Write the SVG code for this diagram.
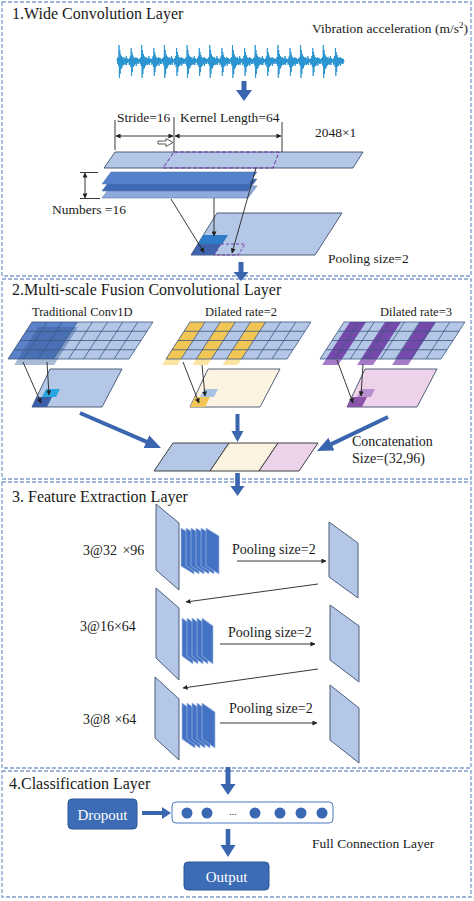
<svg xmlns="http://www.w3.org/2000/svg" xmlns:xlink="http://www.w3.org/1999/xlink" width="474" height="901" viewBox="0 0 474 901">
<style>
text{font-family:"Liberation Serif","Times New Roman",serif;fill:#1a1a1a}
.t16{font-size:16px}
.t14{font-size:14px}
.t13{font-size:13.5px}
.t12{font-size:12.5px}
.box{fill:none;stroke:#7f9ccb;stroke-width:1.3;stroke-dasharray:4 2}
.lb{fill:#b4c7e7;stroke:#3d4f6e;stroke-width:0.9}
.blk{fill:#3a66b0}
.thin{stroke:#222;stroke-width:0.9;fill:none}
.thick{stroke:#3a66b0;stroke-width:4;fill:none}
.grid{fill:none;stroke:#3b5580;stroke-width:0.8}
.panel{fill:#4472c4;stroke:#9db7e3;stroke-width:0.7}
.wave{fill:none;stroke:#1f8fce;stroke-width:0.8;stroke-linejoin:round}
.btn{fill:#3b6cb5;stroke:#2e5596;stroke-width:1}
.wt{fill:#fff;font-size:15px}
</style>
<defs>
<marker id="sm" viewBox="0 0 6 6" markerWidth="5" markerHeight="5" refX="5.5" refY="3" orient="auto-start-reverse" markerUnits="userSpaceOnUse"><path d="M0,0 L6,3 L0,6 z" fill="#222"/></marker>
<marker id="big" viewBox="0 0 16 14" markerWidth="16" markerHeight="14" refX="3" refY="7" orient="auto" markerUnits="userSpaceOnUse"><path d="M0,0 L16,7 L0,14 z" fill="#3a66b0"/></marker>
<path id="wA" class="wave" d="M0,0 L0.4,-3 0.8,3 1.2,-4 1.6,5 2,-16 2.4,17 2.8,-11 3.2,13 3.6,-7 4,8 4.4,-5 4.8,7 5.2,-4 5.6,5 6,-3 6.4,4 6.8,-4 7.2,3 7.6,-2 8,4 8.4,-3 8.8,3 9.2,-5 9.6,4 10,-3 10.4,2 10.8,-2 11.2,1 11.35,0"/>
<path id="wB" class="wave" d="M0,0 L0.4,-2 0.8,4 1.2,-3 1.6,3 2,-5 2.4,6 2.8,-13 3.2,15 3.6,-9 4,11 4.4,-6 4.8,6 5.2,-4 5.6,5 6,-3 6.4,4 6.8,-3 7.2,3 7.6,-4 8,5 8.4,-3 8.8,2 9.2,-3 9.6,3 10,-2 10.4,3 10.8,-2 11.2,1 11.35,0"/>
<polygon id="gfill" points="32,322 153,322 129,359 8,359" fill="#b4c7e7"/>
<g id="glines" class="grid">
<polygon points="32,322 153,322 129,359 8,359"/>
<path d="M26,331.25 H147 M20,340.5 H141 M14,349.75 H135 M47.1,322 L23.1,359 M62.3,322 L38.3,359 M77.4,322 L53.4,359 M92.5,322 L68.5,359 M107.6,322 L83.6,359 M122.8,322 L98.8,359 M137.9,322 L113.9,359"/>
</g>
<polygon id="omap" points="50,369 122,369 102,407 32,407" stroke="#3d4f6e" stroke-width="0.9"/>
</defs>

<g id="sections">
<rect class="box" x="2" y="2" width="469" height="274"/>
<rect class="box" x="2" y="279" width="469" height="200"/>
<rect class="box" x="2" y="482" width="469" height="286"/>
<rect class="box" x="2" y="771" width="469" height="126"/>
</g>

<!-- Section 1 -->
<g id="title1"><text class="t16" x="12" y="19">1.Wide Convolution Layer</text></g>
<g id="signal-label"><text class="t13" x="468" y="33" text-anchor="end">Vibration acceleration (m/s<tspan font-size="9" dy="-5">2</tspan><tspan dy="5">)</tspan></text></g>
<g id="signal">
<use href="#wA" x="117" y="61"/><use href="#wB" x="128.35" y="61"/><use href="#wA" x="139.7" y="61"/><use href="#wB" x="151.05" y="61"/>
<use href="#wA" x="162.4" y="61"/><use href="#wB" x="173.75" y="61"/><use href="#wA" x="185.1" y="61"/><use href="#wB" x="196.45" y="61"/>
<use href="#wA" x="207.8" y="61"/><use href="#wB" x="219.15" y="61"/><use href="#wA" x="230.5" y="61"/><use href="#wB" x="241.85" y="61"/>
<use href="#wA" x="253.2" y="61"/><use href="#wB" x="264.55" y="61"/><use href="#wA" x="275.9" y="61"/><use href="#wB" x="287.25" y="61"/>
<use href="#wA" x="298.6" y="61"/><use href="#wB" x="309.95" y="61"/><use href="#wA" x="321.3" y="61"/><use href="#wB" x="332.65" y="61"/>
</g>
<g id="input-strip">
<polygon class="lb" points="115,152 363,152 353,168 104,168"/>
<polygon points="174,152 279,152 273,168 163,168" fill="none" stroke="#7030a0" stroke-width="1" stroke-dasharray="4 2"/>
<text class="t13" x="117" y="122">Stride=16</text>
<text class="t13" x="180" y="122">Kernel Length=64</text>
<text class="t13" x="315" y="137">2048×1</text>
<polygon points="158,141 166,141 166,138.5 173,142.5 166,146.5 166,144 158,144" fill="#fff" stroke="#333" stroke-width="0.8"/>
</g>
<g id="kernels">
<polygon points="111,186 257,186 248,198 102,198" fill="#8faadc" stroke="#5a78b0" stroke-width="0.6"/>
<polygon points="111,179 257,179 248,191 102,191" fill="#3f68b5" stroke="#5a78b0" stroke-width="0.6"/>
<polygon points="111,172 257,172 248,184 102,184" fill="#5580cc" stroke="#5a78b0" stroke-width="0.6"/>
<text class="t13" x="52" y="214">Numbers =16</text>
</g>
<g id="feature-map1">
<polygon class="lb" points="217,213 342,213 315,255 191,255"/>
<polygon points="197.8,244 221,244 214.2,255 191,255" fill="#3f63ad"/>
<polygon points="203.4,235 228,235 222.4,244 197.8,244" fill="#2e7cc8"/>
<polygon points="221,244 245,244 238.2,255 214.2,255" fill="none" stroke="#7030a0" stroke-width="0.9" stroke-dasharray="3 2"/>
<text class="t13" x="328" y="263">Pooling size=2</text>
</g>

<!-- Section 2 -->
<g id="title2"><text class="t16" x="12" y="295">2.Multi-scale Fusion Convolutional Layer</text></g>
<g id="conv-traditional">
<text class="t12" x="32" y="316">Traditional Conv1D</text>
<use href="#gfill"/>
<polygon points="32,322 77.4,322 53.4,359 8,359" fill="#4b74c2" opacity="0.85"/>
<polygon points="38,327 78,327 54,365 14,365" fill="#2f5597" opacity="0.4"/>
<use href="#glines"/>
<use href="#omap" fill="#b4c7e7"/>
<polygon points="46,389 60,389 56,397 42,397" fill="#27a6df"/>
<polygon points="37,397 52,397 47,407 32,407" fill="#3b5ea8"/>
</g>
<g id="conv-dilated2">
<text class="t12" x="205" y="316">Dilated rate=2</text>
<g transform="translate(158,0)">
<use href="#gfill"/>
<polygon points="32,322 47.1,322 23.1,359 8,359" fill="#f2c655"/>
<polygon points="62.3,322 77.4,322 53.4,359 38.3,359" fill="#f2c655"/>
<polygon points="92.5,322 107.6,322 83.6,359 68.5,359" fill="#f2c655"/>
<polygon points="8,359 23.1,359 19.2,365 4.1,365" fill="#fbe3a0"/>
<polygon points="38.3,359 53.4,359 49.5,365 34.4,365" fill="#fbe3a0"/>
<polygon points="68.5,359 83.6,359 79.7,365 64.6,365" fill="#fbe3a0"/>
<use href="#glines"/>
<use href="#omap" fill="#fdf3e1"/>
<polygon points="46,389 60,389 56,397 42,397" fill="#a9c3e3"/>
<polygon points="37,397 52,397 47,407 32,407" fill="#f2c655"/>
</g>
</g>
<g id="conv-dilated3">
<text class="t12" x="380" y="316">Dilated rate=3</text>
<g transform="translate(312,0)">
<use href="#gfill"/>
<polygon points="38,322 54,322 30,359 14,359" fill="#6a32a0" opacity="0.85"/>
<polygon points="73,322 89,322 65,359 49,359" fill="#6a32a0" opacity="0.85"/>
<polygon points="108,322 124,322 100,359 84,359" fill="#6a32a0" opacity="0.85"/>
<polygon points="14,359 30,359 26,365 10,365" fill="#a57ac6"/>
<polygon points="49,359 65,359 61,365 45,365" fill="#a57ac6"/>
<polygon points="84,359 100,359 96,365 80,365" fill="#a57ac6"/>
<use href="#glines"/>
</g>
<g transform="translate(315,0)">
<use href="#omap" fill="#ecd3ea"/>
<polygon points="46,389 60,389 56,397 42,397" fill="#b890cf"/>
<polygon points="37,397 52,397 47,407 32,407" fill="#8a55a8"/>
</g>
</g>
<g id="concatenation">
<polygon points="173,443 229,443 210,471 154,471" fill="#b4c7e7" stroke="#404040" stroke-width="1"/>
<polygon points="229,443 278,443 259,471 210,471" fill="#fdf3e1" stroke="#404040" stroke-width="1"/>
<polygon points="278,443 318,443 299,471 259,471" fill="#ecd3ea" stroke="#404040" stroke-width="1"/>
<text class="t14" x="352" y="446">Concatenation</text>
<text class="t14" x="352" y="463">Size=(32,96)</text>
</g>

<!-- Section 3 -->
<g id="title3"><text class="t16" x="12" y="502">3. Feature Extraction Layer</text></g>
<g id="stage1">
<text class="t14" x="83" y="555" word-spacing="2">3@32 ×96</text>
<polygon class="lb" points="156,504 179,523 179,590 156,570"/>
<polygon class="panel" points="181,528 194,536 194,574 181,566"/>
<polygon class="panel" points="186,528 199,536 199,574 186,566"/>
<polygon class="panel" points="191,528 204,536 204,574 191,566"/>
<polygon class="panel" points="196,528 209,536 209,574 196,566"/>
<polygon class="panel" points="201,528 214,536 214,574 201,566"/>
<polygon class="panel" points="206,528 219,536 219,574 206,566"/>
<text class="t14" x="232" y="554">Pooling size=2</text>
<polygon class="lb" points="329,522 358,543 358,598 329,577"/>
</g>
<g id="stage2">
<text class="t14" x="80" y="631">3@16×64</text>
<polygon class="lb" points="156,588 179,608 179,680 156,658"/>
<polygon class="panel" points="182,618 193,626 193,664 182,656"/>
<polygon class="panel" points="187,618 198,626 198,664 187,656"/>
<polygon class="panel" points="192,618 203,626 203,664 192,656"/>
<polygon class="panel" points="197,618 208,626 208,664 197,656"/>
<polygon class="panel" points="202,618 213,626 213,664 202,656"/>
<text class="t14" x="228" y="637">Pooling size=2</text>
<polygon class="lb" points="330,605 359,626 359,682 330,660"/>
</g>
<g id="stage3">
<text class="t14" x="83" y="724" word-spacing="1">3@8 ×64</text>
<polygon class="lb" points="155,677 179,699 179,760 155,738"/>
<polygon class="panel" points="182,703 195,712 195,748 182,739"/>
<polygon class="panel" points="187,703 200,712 200,748 187,739"/>
<polygon class="panel" points="192,703 205,712 205,748 192,739"/>
<polygon class="panel" points="197,703 210,712 210,748 197,739"/>
<polygon class="panel" points="202,703 215,712 215,748 202,739"/>
<text class="t14" x="229" y="713">Pooling size=2</text>
<polygon class="lb" points="330,685 359,708 359,763 330,740"/>
</g>

<!-- Section 4 -->
<g id="title4"><text class="t16" x="9" y="789">4.Classification Layer</text></g>
<g id="dropout">
<rect class="btn" x="68" y="799" width="69" height="30" rx="4"/>
<text class="wt" x="102.5" y="819.5" text-anchor="middle">Dropout</text>
</g>
<g id="fc-layer">
<rect x="172" y="802" width="161" height="21" rx="4" fill="#fff" stroke="#4a76c0" stroke-width="1"/>
<g fill="#3a68b2">
<circle cx="187" cy="813" r="5.5"/><circle cx="207" cy="813" r="5.5"/>
<circle cx="255" cy="813" r="5.5"/><circle cx="280" cy="813" r="5.5"/>
<circle cx="301" cy="813" r="5.5"/><circle cx="322" cy="813" r="5.5"/>
</g>
<text x="233" y="815" font-size="10" text-anchor="middle">...</text>
<text class="t13" x="312" y="848">Full Connection Layer</text>
</g>
<g id="output">
<rect class="btn" x="184" y="862" width="85" height="28" rx="4"/>
<text class="wt" x="226.5" y="881.5" text-anchor="middle">Output</text>
</g>

<g id="connectors">
<polygon class="blk" points="241.5,81 246.5,81 246.5,90 252,90 244,101 236,90 241.5,90"/>
<polygon class="blk" points="238.5,262 243.5,262 243.5,272 248.5,272 241,281 233.5,272 238.5,272"/>
<polygon class="blk" points="235.5,414 239.5,414 239.5,431 243.5,431 237.5,442 231.5,431 235.5,431"/>
<polygon class="blk" points="235.2,473 239.8,473 239.8,486 244.5,486 237.5,496 230.5,486 235.2,486"/>
<polygon class="blk" points="225.5,767 230.5,767 230.5,784 235.5,784 228,795 220.5,784 225.5,784"/>
<polygon class="blk" points="225.7,829 230.3,829 230.3,845 235.5,845 228,857 220.5,845 225.7,845"/>
<polygon class="blk" points="142,811 162,811 162,807 171,813 162,819 162,815 142,815"/>
<line class="thick" x1="80" y1="413" x2="149.1" y2="442.8" marker-end="url(#big)"/>
<line class="thick" x1="388" y1="417" x2="328.7" y2="445.4" marker-end="url(#big)"/>
<path class="thin" d="M115,120 V150 M174,117 V152 M282,122 V152 M80,172.5 H98 M80,198.5 H100"/>
<line class="thin" x1="116" y1="136" x2="173" y2="136" marker-start="url(#sm)" marker-end="url(#sm)"/>
<line class="thin" x1="175" y1="136" x2="281" y2="136" marker-start="url(#sm)" marker-end="url(#sm)"/>
<line class="thin" x1="85" y1="173" x2="85" y2="198" marker-start="url(#sm)" marker-end="url(#sm)"/>
<line class="thin" x1="171" y1="199" x2="204" y2="252.5" marker-end="url(#sm)"/>
<line class="thin" x1="214" y1="198" x2="214" y2="236" marker-end="url(#sm)"/>
<line class="thin" x1="256" y1="168" x2="232" y2="253" marker-end="url(#sm)"/>
<line class="thin" x1="23" y1="362" x2="41" y2="403" marker-end="url(#sm)"/>
<line class="thin" x1="47" y1="362" x2="49" y2="395" marker-end="url(#sm)"/>
<line class="thin" x1="183" y1="362" x2="199" y2="403" marker-end="url(#sm)"/>
<line class="thin" x1="202" y1="365" x2="205" y2="396" marker-end="url(#sm)"/>
<line class="thin" x1="337" y1="360" x2="353" y2="403" marker-end="url(#sm)"/>
<line class="thin" x1="363" y1="364" x2="361" y2="396" marker-end="url(#sm)"/>
<line class="thin" x1="237" y1="561" x2="326" y2="561" marker-end="url(#sm)"/>
<line class="thin" x1="220" y1="644" x2="315" y2="644" marker-end="url(#sm)"/>
<line class="thin" x1="220" y1="723" x2="317" y2="723" marker-end="url(#sm)"/>
<line class="thin" x1="318" y1="584" x2="186" y2="602" marker-end="url(#sm)"/>
<line class="thin" x1="318" y1="669" x2="183" y2="688" marker-end="url(#sm)"/>
</g>
</svg>
